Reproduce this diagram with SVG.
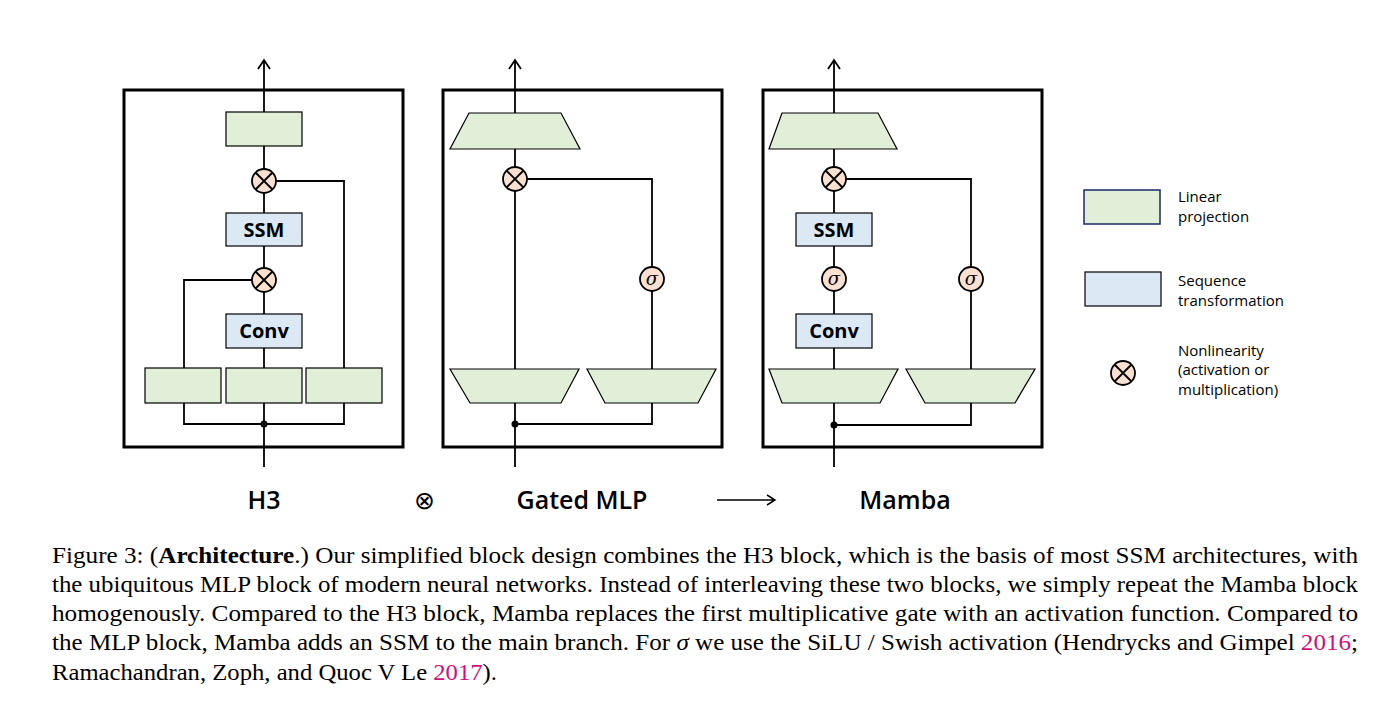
<svg xmlns="http://www.w3.org/2000/svg" width="1400" height="721" viewBox="0 0 1400 721">
<style>
.frame{fill:none;stroke:#000;stroke-width:3}
.ln{fill:none;stroke:#000;stroke-width:1.8}
.lp{fill:#e1eed8;stroke:#000;stroke-width:1.2}
.sq{fill:#dce9f5;stroke:#000;stroke-width:1.2}
.nl{fill:#f9e0d0;stroke:#000;stroke-width:1.8}
.lbl{font-family:"Open Sans","Noto Sans",sans-serif;font-weight:bold;font-size:20px;text-anchor:middle}
.t{font-family:"Open Sans","Noto Sans",sans-serif;font-size:15px}
.big{font-family:"Open Sans","Noto Sans",sans-serif;font-weight:600;font-size:25px;text-anchor:middle}
.sig{font-family:"DejaVu Serif",serif;font-style:italic;font-size:18px;text-anchor:middle}
.cap{font-family:"Liberation Serif","Times New Roman",serif;font-size:22.5px}
.lk{fill:#d0107a}
</style>
<defs>
<g id="x"><circle r="12" class="nl"/><path d="M-8.5,-8.5 L8.5,8.5 M-8.5,8.5 L8.5,-8.5" stroke="#000" stroke-width="1.8"/></g>
<g id="s"><circle r="12" class="nl"/><text y="6" class="sig">σ</text></g>
</defs>
<g id="connectors">
<path class="ln" d="M264,467 V60 M258,69 L264,60 L270,69"/>
<path class="ln" d="M184,368 V280 H264 M344,368 V181 H264 M184,403 V424 H344 V403"/>
<path class="ln" d="M515,467 V60 M509,69 L515,60 L521,69"/>
<path class="ln" d="M652,369 V179 H515 M515,424 H652 V403"/>
<path class="ln" d="M834,467 V60 M828,69 L834,60 L840,69"/>
<path class="ln" d="M971,369 V179 H834 M834,425 H971 V403"/>
</g>
<g id="h3">
<rect class="frame" x="124" y="90" width="279" height="357"/>
<rect class="lp" x="226" y="112" width="76" height="34"/>
<use href="#x" x="264" y="181"/>
<rect class="sq" x="226" y="213" width="76" height="33"/><text class="lbl" x="264" y="237">SSM</text>
<use href="#x" x="264" y="280"/>
<rect class="sq" x="226" y="314" width="76" height="34"/><text class="lbl" x="264" y="338">Conv</text>
<rect class="lp" x="145" y="368" width="76" height="35"/>
<rect class="lp" x="226" y="368" width="76" height="35"/>
<rect class="lp" x="306" y="368" width="76" height="35"/>
<circle cx="264" cy="424" r="3.5"/>
<text class="big" x="264" y="509">H3</text>
</g>
<g id="gated">
<rect class="frame" x="443" y="90" width="279" height="357"/>
<path class="lp" d="M469,113 H561 L580,149 H450 Z"/>
<use href="#x" x="515" y="179"/>
<use href="#s" x="652" y="279"/>
<path class="lp" d="M450,369 H579 L561,403 H470 Z"/>
<path class="lp" d="M587,369 H716 L698,403 H605 Z"/>
<circle cx="515" cy="424" r="3.5"/>
<text class="big" x="582" y="509">Gated MLP</text>
</g>
<g id="mamba">
<rect class="frame" x="763" y="90" width="279" height="357"/>
<path class="lp" d="M782,113 H878 L897,149 H769 Z"/>
<use href="#x" x="834" y="179"/>
<rect class="sq" x="796" y="213" width="76" height="33"/><text class="lbl" x="834" y="237">SSM</text>
<use href="#s" x="834" y="279"/>
<rect class="sq" x="796" y="314" width="76" height="34"/><text class="lbl" x="834" y="338">Conv</text>
<use href="#s" x="971" y="279"/>
<path class="lp" d="M769,369 H898 L880,403 H782 Z"/>
<path class="lp" d="M906,369 H1035 L1015,403 H925 Z"/>
<circle cx="834" cy="425" r="3.5"/>
<text class="big" x="905" y="509">Mamba</text>
</g>
<g id="ops">
<text class="big" x="424" y="509" style="font-weight:normal">⊗</text>
<path d="M717,500 H775 M767,495 L775,500 L767,505" fill="none" stroke="#000" stroke-width="1.5"/>
</g>
<g id="legend">
<rect x="1084" y="190" width="76" height="34" fill="#e1eed8" stroke="#1a2a66" stroke-width="1.5"/>
<text class="t" x="1178" y="202">Linear</text><text class="t" x="1178" y="222">projection</text>
<rect x="1085" y="272" width="76" height="34" class="sq" stroke-width="1.5"/>
<text class="t" x="1178" y="286">Sequence</text><text class="t" x="1178" y="306">transformation</text>
<use href="#x" x="1123" y="373"/>
<text class="t" x="1178" y="356">Nonlinearity</text><text class="t" x="1178" y="375">(activation or</text><text class="t" x="1178" y="395">multiplication)</text>
</g>
<g id="caption" class="cap">
<text x="52" y="563" textLength="1306" lengthAdjust="spacingAndGlyphs">Figure 3: (<tspan font-weight="bold">Architecture</tspan>.) Our simplified block design combines the H3 block, which is the basis of most SSM architectures, with</text>
<text x="52" y="592" textLength="1306" lengthAdjust="spacingAndGlyphs">the ubiquitous MLP block of modern neural networks. Instead of interleaving these two blocks, we simply repeat the Mamba block</text>
<text x="52" y="621" textLength="1306" lengthAdjust="spacingAndGlyphs">homogenously. Compared to the H3 block, Mamba replaces the first multiplicative gate with an activation function. Compared to</text>
<text x="52" y="650" textLength="1306" lengthAdjust="spacingAndGlyphs">the MLP block, Mamba adds an SSM to the main branch. For <tspan font-style="italic">σ</tspan> we use the SiLU / Swish activation (Hendrycks and Gimpel <tspan class="lk">2016</tspan>;</text>
<text x="52" y="680" textLength="445" lengthAdjust="spacingAndGlyphs">Ramachandran, Zoph, and Quoc V Le <tspan class="lk">2017</tspan>).</text>
</g>
</svg>
